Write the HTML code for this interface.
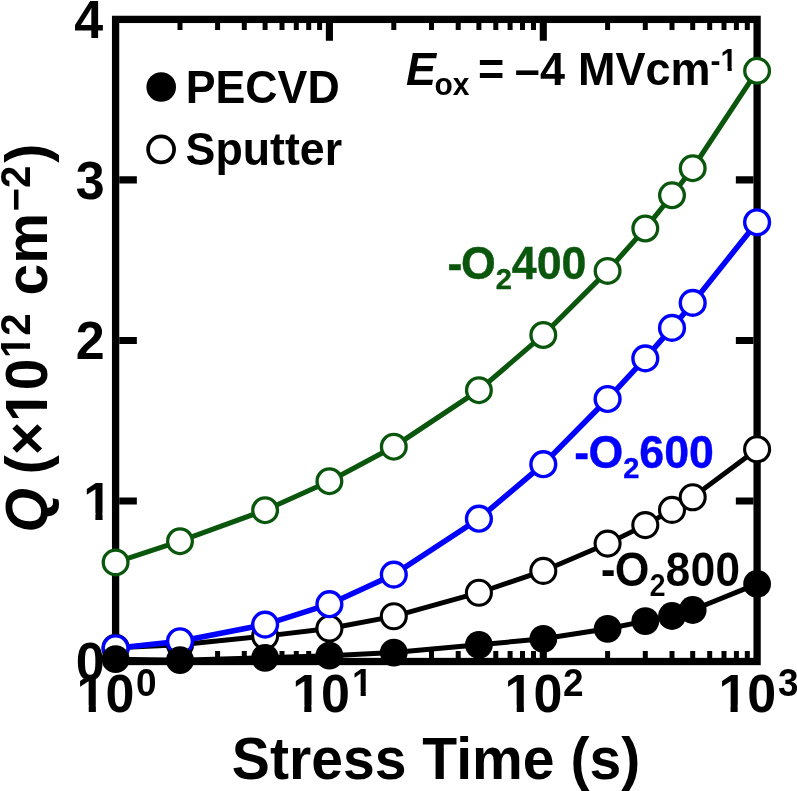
<!DOCTYPE html>
<html lang="en"><head><meta charset="utf-8"><title>Q vs Stress Time</title>
<style>html,body{margin:0;padding:0;background:#fff}svg{display:block}text{font-family:"Liberation Sans",Arial,sans-serif;font-weight:bold}</style>
</head><body>
<svg width="797" height="791" viewBox="0 0 797 791">
<rect x="0" y="0" width="797" height="791" fill="#fff"/>
<text transform="translate(104.6 680.3) scale(1 1.04)" font-size="52" text-anchor="end">0</text>
<g transform="translate(112.2 519.8) scale(1 1.04)"><text font-size="52" text-anchor="end">1</text><g fill="#fff"><rect x="-27.24" y="-6.50" width="10.44" height="7.30"/><rect x="-9.65" y="-6.50" width="9.82" height="7.30"/></g></g>
<text transform="translate(104.6 359.3) scale(1 1.04)" font-size="52" text-anchor="end">2</text>
<text transform="translate(104.6 198.7) scale(1 1.04)" font-size="52" text-anchor="end">3</text>
<text transform="translate(103.1 38.2) scale(1 1.04)" font-size="52" text-anchor="end">4</text>
<rect x="115.6" y="19.4" width="641.5" height="642.1" fill="none" stroke="#000" stroke-width="7.3"/>
<g stroke="#000" fill="none"><path d="M180.0 657.90v-7.0M180.0 23.05v7.0" stroke-width="5.0"/><path d="M217.6 657.90v-7.0M217.6 23.05v7.0" stroke-width="5.0"/><path d="M244.3 657.90v-7.0M244.3 23.05v7.0" stroke-width="5.0"/><path d="M265.1 657.90v-7.0M265.1 23.05v7.0" stroke-width="5.0"/><path d="M282.0 657.90v-7.0M282.0 23.05v7.0" stroke-width="5.0"/><path d="M296.3 657.90v-7.0M296.3 23.05v7.0" stroke-width="5.0"/><path d="M308.7 657.90v-7.0M308.7 23.05v7.0" stroke-width="5.0"/><path d="M319.6 657.90v-7.0M319.6 23.05v7.0" stroke-width="5.0"/><path d="M329.4 657.90v-17.6M329.4 23.05v17.6" stroke-width="7.1"/><path d="M393.8 657.90v-7.0M393.8 23.05v7.0" stroke-width="5.0"/><path d="M431.5 657.90v-7.0M431.5 23.05v7.0" stroke-width="5.0"/><path d="M458.2 657.90v-7.0M458.2 23.05v7.0" stroke-width="5.0"/><path d="M478.9 657.90v-7.0M478.9 23.05v7.0" stroke-width="5.0"/><path d="M495.8 657.90v-7.0M495.8 23.05v7.0" stroke-width="5.0"/><path d="M510.1 657.90v-7.0M510.1 23.05v7.0" stroke-width="5.0"/><path d="M522.5 657.90v-7.0M522.5 23.05v7.0" stroke-width="5.0"/><path d="M533.5 657.90v-7.0M533.5 23.05v7.0" stroke-width="5.0"/><path d="M543.3 657.90v-17.6M543.3 23.05v17.6" stroke-width="7.1"/><path d="M607.6 657.90v-7.0M607.6 23.05v7.0" stroke-width="5.0"/><path d="M645.3 657.90v-7.0M645.3 23.05v7.0" stroke-width="5.0"/><path d="M672.0 657.90v-7.0M672.0 23.05v7.0" stroke-width="5.0"/><path d="M692.7 657.90v-7.0M692.7 23.05v7.0" stroke-width="5.0"/><path d="M709.7 657.90v-7.0M709.7 23.05v7.0" stroke-width="5.0"/><path d="M724.0 657.90v-7.0M724.0 23.05v7.0" stroke-width="5.0"/><path d="M736.4 657.90v-7.0M736.4 23.05v7.0" stroke-width="5.0"/><path d="M747.3 657.90v-7.0M747.3 23.05v7.0" stroke-width="5.0"/><path d="M119.25 501.0h17.6M753.45 501.0h-17.6" stroke-width="7.1"/><path d="M119.25 340.5h17.6M753.45 340.5h-17.6" stroke-width="7.1"/><path d="M119.25 179.9h17.6M753.45 179.9h-17.6" stroke-width="7.1"/></g>
<polyline points="115.6,562.4 180.0,541.2 265.1,510.2 329.4,481.2 393.8,446.7 478.9,390.2 543.3,335.0 607.6,270.9 645.3,228.5 672.0,195.3 692.7,168.2 757.1,70.8" fill="none" stroke="#0a560d" stroke-width="5.1"/><g fill="#fff" stroke="#0a560d" stroke-width="3.3"><circle cx="115.6" cy="562.4" r="12.35"/><circle cx="180.0" cy="541.2" r="12.35"/><circle cx="265.1" cy="510.2" r="12.35"/><circle cx="329.4" cy="481.2" r="12.35"/><circle cx="393.8" cy="446.7" r="12.35"/><circle cx="478.9" cy="390.2" r="12.35"/><circle cx="543.3" cy="335.0" r="12.35"/><circle cx="607.6" cy="270.9" r="12.35"/><circle cx="645.3" cy="228.5" r="12.35"/><circle cx="672.0" cy="195.3" r="12.35"/><circle cx="692.7" cy="168.2" r="12.35"/><circle cx="757.1" cy="70.8" r="12.35"/></g>
<polyline points="115.6,647.8 180.0,644.8 265.1,636.1 329.4,628.5 393.8,616.3 478.9,592.7 543.3,570.9 607.6,543.6 645.3,525.1 672.0,509.9 692.7,497.3 757.1,449.3" fill="none" stroke="#000" stroke-width="4.9"/><g fill="#fff" stroke="#000" stroke-width="3.1"><circle cx="115.6" cy="647.8" r="12.5"/><circle cx="180.0" cy="644.8" r="12.5"/><circle cx="265.1" cy="636.1" r="12.5"/><circle cx="329.4" cy="628.5" r="12.5"/><circle cx="393.8" cy="616.3" r="12.5"/><circle cx="478.9" cy="592.7" r="12.5"/><circle cx="543.3" cy="570.9" r="12.5"/><circle cx="607.6" cy="543.6" r="12.5"/><circle cx="645.3" cy="525.1" r="12.5"/><circle cx="672.0" cy="509.9" r="12.5"/><circle cx="692.7" cy="497.3" r="12.5"/><circle cx="757.1" cy="449.3" r="12.5"/></g>
<polyline points="115.6,648.3 180.0,641.3 265.1,624.6 329.4,604.2 393.8,574.6 478.9,518.7 543.3,464.2 607.6,399.0 645.3,358.4 672.0,327.9 692.7,302.9 757.1,222.3" fill="none" stroke="#0000ff" stroke-width="5.5"/><g fill="#fff" stroke="#0000ff" stroke-width="3.4"><circle cx="115.6" cy="648.3" r="12.4"/><circle cx="180.0" cy="641.3" r="12.4"/><circle cx="265.1" cy="624.6" r="12.4"/><circle cx="329.4" cy="604.2" r="12.4"/><circle cx="393.8" cy="574.6" r="12.4"/><circle cx="478.9" cy="518.7" r="12.4"/><circle cx="543.3" cy="464.2" r="12.4"/><circle cx="607.6" cy="399.0" r="12.4"/><circle cx="645.3" cy="358.4" r="12.4"/><circle cx="672.0" cy="327.9" r="12.4"/><circle cx="692.7" cy="302.9" r="12.4"/><circle cx="757.1" cy="222.3" r="12.4"/></g>
<polyline points="115.6,659.2 180.0,660.2 265.1,657.8 329.4,655.7 393.8,652.6 478.9,644.8 543.3,638.8 607.6,628.8 645.3,621.1 672.0,616.0 692.7,610.0 757.1,583.9" fill="none" stroke="#000" stroke-width="5.0"/><g fill="#000" stroke="#000" stroke-width="0"><circle cx="115.6" cy="659.2" r="13.9"/><circle cx="180.0" cy="660.2" r="13.9"/><circle cx="265.1" cy="657.8" r="13.9"/><circle cx="329.4" cy="655.7" r="13.9"/><circle cx="393.8" cy="652.6" r="13.9"/><circle cx="478.9" cy="644.8" r="13.9"/><circle cx="543.3" cy="638.8" r="13.9"/><circle cx="607.6" cy="628.8" r="13.9"/><circle cx="645.3" cy="621.1" r="13.9"/><circle cx="672.0" cy="616.0" r="13.9"/><circle cx="692.7" cy="610.0" r="13.9"/><circle cx="757.1" cy="583.9" r="13.9"/></g>
<g transform="translate(76.6 712.0) scale(1 1.04)"><text font-size="52">10<tspan font-size="37" dx="1.5" dy="-15.0">0</tspan></text><g fill="#fff"><rect x="1.68" y="-6.50" width="10.44" height="7.30"/><rect x="19.27" y="-6.50" width="9.82" height="7.30"/></g></g>
<g transform="translate(292.2 712.0) scale(1 1.04)"><text font-size="52">10<tspan font-size="37" dx="2.0" dy="-15.0">1</tspan></text><g fill="#fff"><rect x="1.68" y="-6.50" width="10.44" height="7.30"/><rect x="19.27" y="-6.50" width="9.82" height="7.30"/><rect x="60.57" y="-19.97" width="7.89" height="5.77"/><rect x="73.55" y="-19.97" width="7.45" height="5.77"/></g></g>
<g transform="translate(504.6 712.0) scale(1 1.04)"><text font-size="52">10<tspan font-size="37" dx="0.5" dy="-15.0">2</tspan></text><g fill="#fff"><rect x="1.68" y="-6.50" width="10.44" height="7.30"/><rect x="19.27" y="-6.50" width="9.82" height="7.30"/></g></g>
<g transform="translate(718.4 712.0) scale(1 1.04)"><text font-size="52">10<tspan font-size="37" dx="1.8" dy="-15.0">3</tspan></text><g fill="#fff"><rect x="1.68" y="-6.50" width="10.44" height="7.30"/><rect x="19.27" y="-6.50" width="9.82" height="7.30"/></g></g>
<text transform="translate(436 779.2) scale(1 1.04)" font-size="57.1" text-anchor="middle">Stress Time (s)</text>
<g transform="translate(47 0) rotate(-90) scale(1 1.04)"><text font-size="57"><tspan x="-532.5" y="0" font-style="italic">Q</tspan><tspan x="-474.3" y="0">(×10</tspan><tspan x="-358.1" y="-16.7" font-size="40">12</tspan><tspan x="-295.5" y="0">cm</tspan><tspan x="-211.4" y="-16.7" font-size="40">−2</tspan><tspan x="-162.8" y="0">)</tspan></text><g fill="#fff"><rect x="-420.04" y="-7.01" width="11.29" height="7.81"/><rect x="-400.91" y="-7.01" width="10.61" height="7.81"/><rect x="-357.18" y="-21.98" width="8.40" height="6.08"/><rect x="-343.28" y="-21.98" width="7.92" height="6.08"/></g></g>
<circle cx="161.2" cy="87" r="14.8" fill="#000"/>
<circle cx="161.1" cy="149.45" r="13.0" fill="#fff" stroke="#000" stroke-width="3.7"/>
<text transform="translate(185.7 103.2) scale(1 1.04)" font-size="44.7">PECVD</text>
<text transform="translate(185.6 165.2) scale(1 1.04)" font-size="44.7">Sputter</text>
<text transform="translate(406 84.6) scale(1 1.04)" font-size="45" font-style="italic">E</text>
<text transform="translate(434.5 95.2) scale(1 1.04)" font-size="30">ox</text>
<g transform="translate(478.0 84.6) scale(1 1.04)"><text font-size="45">=<tspan dx="-1.9"> –4</tspan><tspan dx="0.7"> MVcm</tspan><tspan font-size="30" dy="-13.0">-1</tspan></text><g fill="#fff"><rect x="242.89" y="-17.26" width="6.70" height="5.06"/><rect x="253.72" y="-17.26" width="6.34" height="5.06"/></g></g>
<text transform="translate(447.5 279.2) scale(1 1.04)" font-size="44.7" fill="#0a560d" stroke="#0a560d" stroke-width="0.4">-<tspan dx="-1.5">O</tspan><tspan font-size="29" dy="9.6">2</tspan><tspan dy="-9.6">400</tspan></text>
<text transform="translate(574.2 468.1) scale(1 1.04)" font-size="44.7" fill="#0000ff" stroke="#0000ff" stroke-width="0.4">-<tspan dx="-0.6">O</tspan><tspan font-size="29" dy="9.6">2</tspan><tspan dy="-9.6">600</tspan></text>
<text transform="translate(600.7 585.6) scale(1 1.06)" font-size="44.7" fill="#000" stroke="#fff" stroke-width="0.15">-<tspan dx="-0.9">O</tspan><tspan font-size="29" dy="9.4">2</tspan><tspan dy="-9.4">800</tspan></text>
</svg>
</body></html>
